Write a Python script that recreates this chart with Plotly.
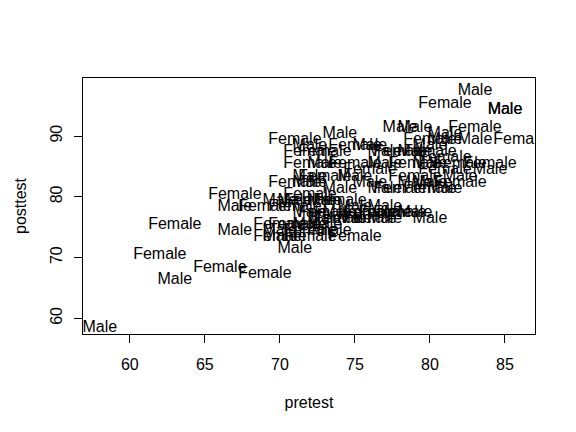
import plotly.graph_objects as go

# pretest / posttest scores, one label per student
gender = [
    "Male", "Female", "Female", "Male", "Female", "Female", "Female", "Male", "Female", "Male",
    "Male", "Female", "Male", "Female", "Male", "Male", "Female", "Male", "Male", "Female",
    "Male", "Male", "Male", "Male", "Female", "Male", "Female", "Female", "Male", "Male",
    "Female", "Female", "Male", "Male", "Female", "Female", "Male", "Female", "Male", "Female",
    "Female", "Male", "Female", "Male", "Female", "Female", "Male", "Female", "Female", "Male",
    "Female", "Male", "Female", "Male", "Male", "Male", "Male", "Male", "Female", "Female",
    "Male", "Male", "Female", "Male", "Female", "Male", "Female", "Male", "Female", "Male",
    "Male", "Female", "Female", "Male", "Female", "Male", "Female", "Male", "Male", "Female",
    "Male", "Female", "Female", "Male", "Female", "Female", "Male", "Female", "Male", "Female",
    "Female", "Male", "Female", "Male", "Female", "Male", "Female",
]
pretest = [
    58, 62, 63, 63, 66, 69, 67, 67, 69, 67,
    70, 71, 71, 75, 79, 77, 76, 80, 83, 81,
    85, 85, 78, 79, 83, 74, 71, 80, 81, 83,
    86, 75, 76, 72, 72, 73, 77, 78, 79, 80,
    72, 73, 75, 77, 79, 81, 80, 82, 84, 84,
    81, 80, 71, 72, 72, 75, 76, 74, 73, 79,
    79, 80, 80, 81, 82, 82, 78, 77, 76, 70,
    71, 71, 72, 73, 74, 75, 76, 74, 75, 73,
    72, 77, 78, 77, 76, 74, 73, 70, 72, 72,
    73, 73, 70, 70, 72, 81, 72,
]
posttest = [
    59, 71, 76, 67, 69, 68, 81, 79, 79, 75,
    75, 76, 72, 74, 78, 79, 78, 77, 98, 96,
    95, 95, 92, 92, 92, 91, 90, 90, 90, 90,
    90, 89, 89, 89, 88, 88, 88, 88, 88, 88,
    86, 86, 86, 86, 86, 87, 89, 86, 86, 85,
    85, 86, 83, 84, 83, 84, 83, 82, 84, 84,
    83, 83, 82, 82, 83, 84, 82, 82, 85, 80,
    80, 79, 80, 80, 80, 79, 78, 78, 77, 78,
    78, 78, 78, 77, 77, 77, 77, 76, 76, 75,
    75, 76, 74, 74, 74, 91, 81,
]

FONT = "Liberation Sans, Arial"
y_range = [57.41, 99.56]
# plotly sets text a few px higher than R does; the labels sit on a hidden
# copy of the y axis nudged by ~4 px so they land where R put them
y_nudge = 4 / 6.067

fig = go.Figure()
# empty trace so the visible x/y subplot is drawn
fig.add_trace(go.Scatter(x=[], y=[], mode="markers", showlegend=False, hoverinfo="skip"))
fig.add_trace(go.Scatter(
    x=pretest, y=posttest, text=gender, mode="text", yaxis="y2",
    textposition="middle center",
    textfont=dict(family=FONT, size=16, color="black"),
    cliponaxis=True, showlegend=False,
))

axis_style = dict(
    showline=True, mirror=True, linecolor="black", linewidth=1,
    ticks="outside", ticklen=8, tickcolor="black", tickwidth=1,
    showgrid=False, zeroline=False,
    tickfont=dict(family=FONT, size=16, color="black"),
)

fig.update_layout(
    width=576, height=432,
    margin=dict(l=70, r=49, t=70, b=106),
    plot_bgcolor="white", paper_bgcolor="white",
    xaxis=dict(
        range=[56.88, 87.0], tickvals=[60, 65, 70, 75, 80, 85],
        ticklabelstandoff=8,
        title=dict(text="pretest", standoff=24, font=dict(family=FONT, size=16, color="black")),
        **axis_style,
    ),
    yaxis=dict(
        range=y_range, tickvals=[60, 70, 80, 90], tickangle=-90,
        ticklabelstandoff=6,
        title=dict(text="posttest", standoff=16, font=dict(family=FONT, size=16, color="black")),
        **axis_style,
    ),
    yaxis2=dict(
        range=[y_range[0] + y_nudge, y_range[1] + y_nudge],
        overlaying="y", visible=False,
    ),
)

fig.write_html("out.html")
